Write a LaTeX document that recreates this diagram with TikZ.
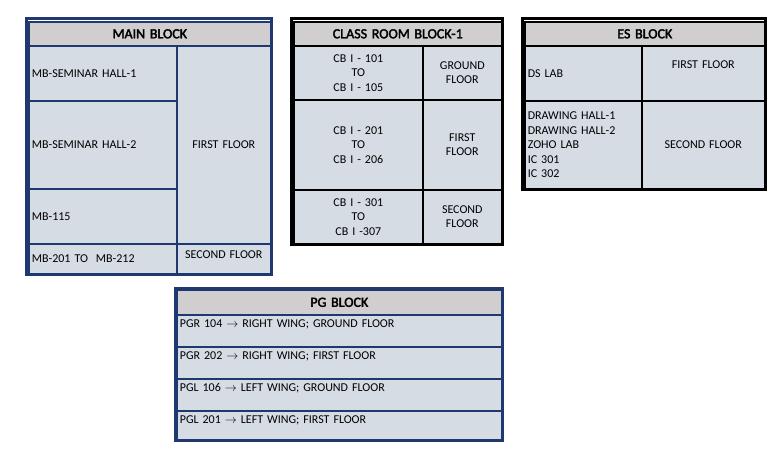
\documentclass[tikz,border=0pt]{standalone}
\usepackage{fontspec}
\setmainfont{Carlito}
\newfontfamily\hdfont[FakeBold=2.5]{Carlito}
\definecolor{navy}{HTML}{1F3870}
\definecolor{cellfill}{HTML}{D6DCE4}
\definecolor{headfill}{HTML}{D0CECE}
\tikzset{
  cellbox/.style={fill=cellfill,draw=navy,line width=1.6pt,inner sep=2pt,font=\fontsize{12}{14.5}\selectfont},
  headbox/.style={cellbox,fill=headfill,font=\hdfont\fontsize{14}{16}\selectfont},
  blk/.style={draw=black},
  lft/.style={align=left},
  ctr/.style={align=center},
}
\newcommand\mycell[7][]{%
  \node[cellbox,#1,anchor=north west,minimum width={(#5-#3)*1pt},minimum height={(#6-#4)*1pt},text width={(#5-#3-6)*1pt}] (#2) at (#3,#4) {#7};}
\begin{document}
\begin{tikzpicture}[x=1pt,y=-1pt]
\useasboundingbox[fill=white] (0,0) rectangle (768,466);
% MAIN BLOCK
\draw[navy,line width=2.5pt] (26.5,18.5) rectangle (271.5,274.5);
\mycell[headbox,ctr]{mbh}{28}{21}{270}{45}{MAIN BLOCK}
\mycell[lft]{mb1}{28}{45}{176}{100}{MB-SEMINAR HALL-1}
\mycell[lft]{mb2}{28}{100}{176}{188}{MB-SEMINAR HALL-2}
\mycell[lft]{mb3}{28}{188}{176}{243}{MB-115}
\mycell[lft]{mb4}{28}{243}{176}{273}{MB-201 TO\ \ MB-212}
\mycell[ctr]{mbf}{176}{45}{270}{243}{FIRST FLOOR}
\mycell[ctr,text depth=9pt]{mbs}{176}{243}{270}{273}{SECOND FLOOR}
% CLASS ROOM BLOCK
\draw[black,line width=2.5pt] (291.5,18.5) rectangle (502.5,244.5);
\mycell[headbox,blk,ctr]{cbh}{293}{21}{501}{45}{CLASS ROOM BLOCK-1}
\mycell[blk,ctr]{cb1}{293}{45}{422}{99}{CB I - 101\\TO\\CB I - 105}
\mycell[blk,ctr]{cb2}{293}{99}{422}{189}{CB I - 201\\TO\\CB I - 206}
\mycell[blk,ctr]{cb3}{293}{189}{422}{243}{CB I - 301\\TO\\CB I -307}
\mycell[blk,ctr]{cf1}{422}{45}{501}{99}{GROUND\\FLOOR}
\mycell[blk,ctr]{cf2}{422}{99}{501}{189}{FIRST\\FLOOR}
\mycell[blk,ctr]{cf3}{422}{189}{501}{243}{SECOND\\FLOOR}
% ES BLOCK
\draw[black,line width=2.5pt] (522.5,18.5) rectangle (765.5,189.5);
\mycell[headbox,blk,ctr]{esh}{524}{21}{764}{45}{ES BLOCK}
\mycell[blk,lft]{es1}{524}{45}{641}{100}{DS LAB}
\mycell[blk,lft]{es2}{524}{100}{641}{188}{DRAWING HALL-1\\DRAWING HALL-2\\ZOHO LAB\\IC 301\\IC 302}
\mycell[blk,ctr,text depth=18pt]{ef1}{641}{45}{764}{100}{FIRST FLOOR}
\mycell[blk,ctr]{ef2}{641}{100}{764}{188}{SECOND FLOOR}
% PG BLOCK
\draw[navy,line width=2pt] (174.5,287.5) rectangle (502.5,440.5);
\mycell[headbox,ctr]{pgh}{176}{289}{501}{314}{PG BLOCK}
\mycell[lft,text depth=14pt]{pg1}{176}{314}{501}{346}{PGR 104 $\rightarrow$ RIGHT WING; GROUND FLOOR}
\mycell[lft,text depth=14pt]{pg2}{176}{346}{501}{378}{PGR 202 $\rightarrow$ RIGHT WING; FIRST FLOOR}
\mycell[lft,text depth=14pt]{pg3}{176}{378}{501}{410}{PGL 106 $\rightarrow$ LEFT WING; GROUND FLOOR}
\mycell[lft,text depth=12pt]{pg4}{176}{410}{501}{439}{PGL 201 $\rightarrow$ LEFT WING; FIRST FLOOR}
\end{tikzpicture}
\end{document}
